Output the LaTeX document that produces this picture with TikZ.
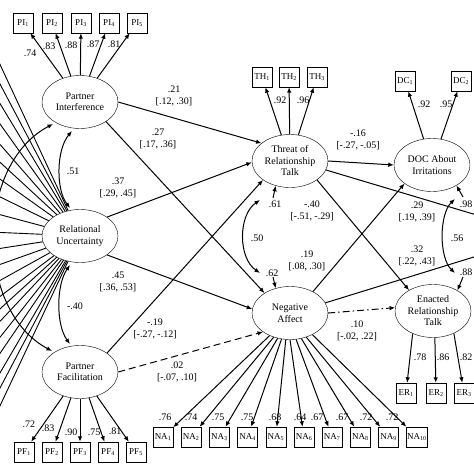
\documentclass[tikz,border=0pt]{standalone}
\usepackage{fontspec}
\setmainfont{Liberation Serif}
\usetikzlibrary{arrows.meta,shapes.geometric}

\begin{document}
\begin{tikzpicture}[x=1pt,y=-1pt,>={Latex[length=5.5pt,width=4.5pt]},
  latent/.style={draw,ellipse,fill=white,minimum width=76pt,minimum height=53pt,inner sep=0pt,align=center,font=\fontsize{10}{11.5}\selectfont},
  item/.style={draw,fill=white,minimum width=20pt,minimum height=20pt,inner sep=1pt,font=\fontsize{9}{10}\selectfont},
  est/.style={align=center,inner sep=0pt,font=\fontsize{10}{12}\selectfont},
  eff/.style={->,line width=1pt},
  cov/.style={<->,line width=1pt},
  fan/.style={line width=0.9pt}]
  \useasboundingbox (0,0) rectangle (474,474);
  \fill[white] (0,0) rectangle (474,474);
  \clip (0,0) rectangle (474,474);

  \foreach \y [count=\k] in {43,65,87,110,133,153,172,192,212,232,250,268,286,304,318,332,350,368,390,407,427}
    \coordinate (ri\k) at (-10,\y);
  \node[latent] (ru) at (80,236) {Relational\\Uncertainty};
  \foreach \k in {1,...,21} \draw[fan] (ru) -- (ri\k);

  \node[latent] (pi) at (80,102) {Partner\\Interference};
  \node[latent] (pf) at (80,372) {Partner\\Facilitation};
  \node[latent] (th) at (290,161) {Threat of\\Relationship\\Talk};
  \node[latent] (na) at (290,313) {Negative\\Affect};
  \node[latent] (doc) at (432,165) {DOC About\\Irritations};
  \node[latent] (er) at (433,311) {Enacted\\Relationship\\Talk};

  \foreach \i/\x in {1/23,2/52,3/81,4/109,5/137}{
    \node[item] (pi\i) at (\x,23) {PI\textsubscript{\i}};
    \draw[eff] (pi) -- (pi\i);
  }
  \foreach \v/\x/\y [count=\i] in {.74/30/53,.83/49/46,.88/71/45,.87/93/44,.81/114/44}
    \node[est] (lpi\i) at (\x,\y) {\v};

  \foreach \i/\x in {1/24,2/52,3/80,4/108,5/136}{
    \node[item] (pf\i) at (\x,452) {PF\textsubscript{\i}};
    \draw[eff] (pf) -- (pf\i);
  }
  \foreach \v/\x/\y [count=\i] in {.72/29/424,.83/48/428,.90/71/432,.75/94/432,.81/115/431}
    \node[est] (lpf\i) at (\x,\y) {\v};

  \foreach \i/\x in {1/262,2/289,3/317}{
    \node[item] (th\i) at (\x,77) {TH\textsubscript{\i}};
    \draw[eff] (th) -- (th\i);
  }
  \node[est] (lth2) at (280,100) {.92};
  \node[est] (lth3) at (303,100) {.96};

  \foreach \i/\x in {1/405,2/461}{
    \node[item] (dc\i) at (\x,81) {DC\textsubscript{\i}};
    \draw[eff] (doc) -- (dc\i);
  }
  \node[est] (ldc1) at (424,104) {.92};
  \node[est] (ldc2) at (446,104) {.95};

  \foreach \i/\x/\a in {1/406/228,2/436/274,3/464/313}{
    \node[item] (er\i) at (\x,393) {ER\textsubscript{\i}};
    \draw[eff] (er.\a) -- (er\i);
  }
  \node[est] (ler1) at (420,357) {.78};
  \node[est] (ler2) at (443,357) {.86};
  \node[est] (ler3) at (466,357) {.82};

  \foreach \a/\v/\lx [count=\i] in {228/.76/165,236/.74/191,244/.75/218,252/.75/247,261/.68/275,270/.64/300,283/.67/317,294/.67/342,304/.72/366,316/.72/392}{
    \node[item] (na\i) at ({163+28.2*(\i-1)},437) {NA\textsubscript{\i}};
    \draw[eff] (na.\a) -- (na\i);
    \node[est] (lna\i) at (\lx,417) {\v};
  }

  \coordinate (offa) at (490,219);
  \coordinate (offb) at (490,252);

  \draw[eff] (pi.east) -- (th.148);
  \draw[eff] (pi.-37) -- (na.142);
  \draw[eff] (ru.35) -- (th.182);
  \draw[eff] (ru.-35) -- (na.174);
  \draw[eff] (pf.35) -- (th.215);
  \draw[eff,dash pattern=on 7pt off 4pt] (pf.east) -- (na.215);
  \draw[eff] (th.east) -- (doc.west);
  \draw[eff] (th.-14) -- (offa);
  \draw[eff] (th.-35) -- (er.139);
  \draw[eff] (na.43) -- (doc.214);
  \draw[eff] (na.16) -- (offb);
  \draw[eff,dash pattern=on 7pt off 3pt on 1.5pt off 3pt] (na.east) -- (er.175);

  \node[est] (bpith) at (174,96) {.21\\{[.12, .30]}};
  \node[est] (bpina) at (158,139) {.27\\{[.17, .36]}};
  \node[est] (bruth) at (118,188) {.37\\{[.29, .45]}};
  \node[est] (bruna) at (118,282) {.45\\{[.36, .53]}};
  \node[est] (bpfth) at (155,329) {-.19\\{[-.27, -.12]}};
  \node[est] (bpfna) at (177,372) {.02\\{[-.07, .10]}};
  \node[est] (bthdoc) at (358,140) {-.16\\{[-.27, -.05]}};
  \node[est] (bther) at (312,211) {-.40\\{[-.51, -.29]}};
  \node[est] (bnadoc) at (307,261) {.19\\{[.08, .30]}};
  \node[est] (bthoff) at (417,212) {.29\\{[.19, .39]}};
  \node[est] (bnaoff) at (417,256) {.32\\{[.22, .43]}};
  \node[est] (bnaer) at (357,331) {.10\\{[-.02, .22]}};

  \coordinate (rth) at (273,198);
  \coordinate (rna) at (273,277);
  \coordinate (rdoc) at (463,197);
  \coordinate (rer) at (463,277);
  \draw[eff] (rth) -- (th.240);
  \draw[eff] (rna) -- (na.120);
  \draw[eff] (rdoc) -- (doc.-40);
  \draw[eff] (rer) -- (er.40);
  \node[est] (lrth) at (275,204) {.61};
  \node[est] (lrna) at (272,273) {.62};
  \node[est] (lrdoc) at (466,204) {.98};
  \node[est] (lrer) at (466,272) {.88};

  \coordinate (cpi) at (72,131);
  \coordinate (cru1) at (70,208);
  \coordinate (cru2) at (70,265);
  \coordinate (cpf) at (70,344);
  \coordinate (cpi2) at (53,124);
  \coordinate (cpf2) at (52,351);
  \coordinate (cth) at (260,200);
  \coordinate (cna) at (260,273);
  \coordinate (cdoc) at (455,199);
  \coordinate (cer) at (455,273);
  \draw[cov] (cpi) .. controls (56,150) and (56,190) .. (cru1);
  \draw[cov] (cru2) .. controls (56,285) and (56,325) .. (cpf);
  \draw[cov] (cpi2) .. controls (-25,165) and (-25,310) .. (cpf2);
  \draw[cov] (cth) .. controls (238,215) and (238,258) .. (cna);
  \draw[cov] (cdoc) .. controls (439,214) and (439,258) .. (cer);
  \node[est] (lpiru) at (73,171) {.51};
  \node[est] (lrupf) at (75,306) {-.40};
  \node[est] (lthna) at (257,238) {.50};
  \node[est] (ldocer) at (457,238) {.56};
\end{tikzpicture}
\end{document}
